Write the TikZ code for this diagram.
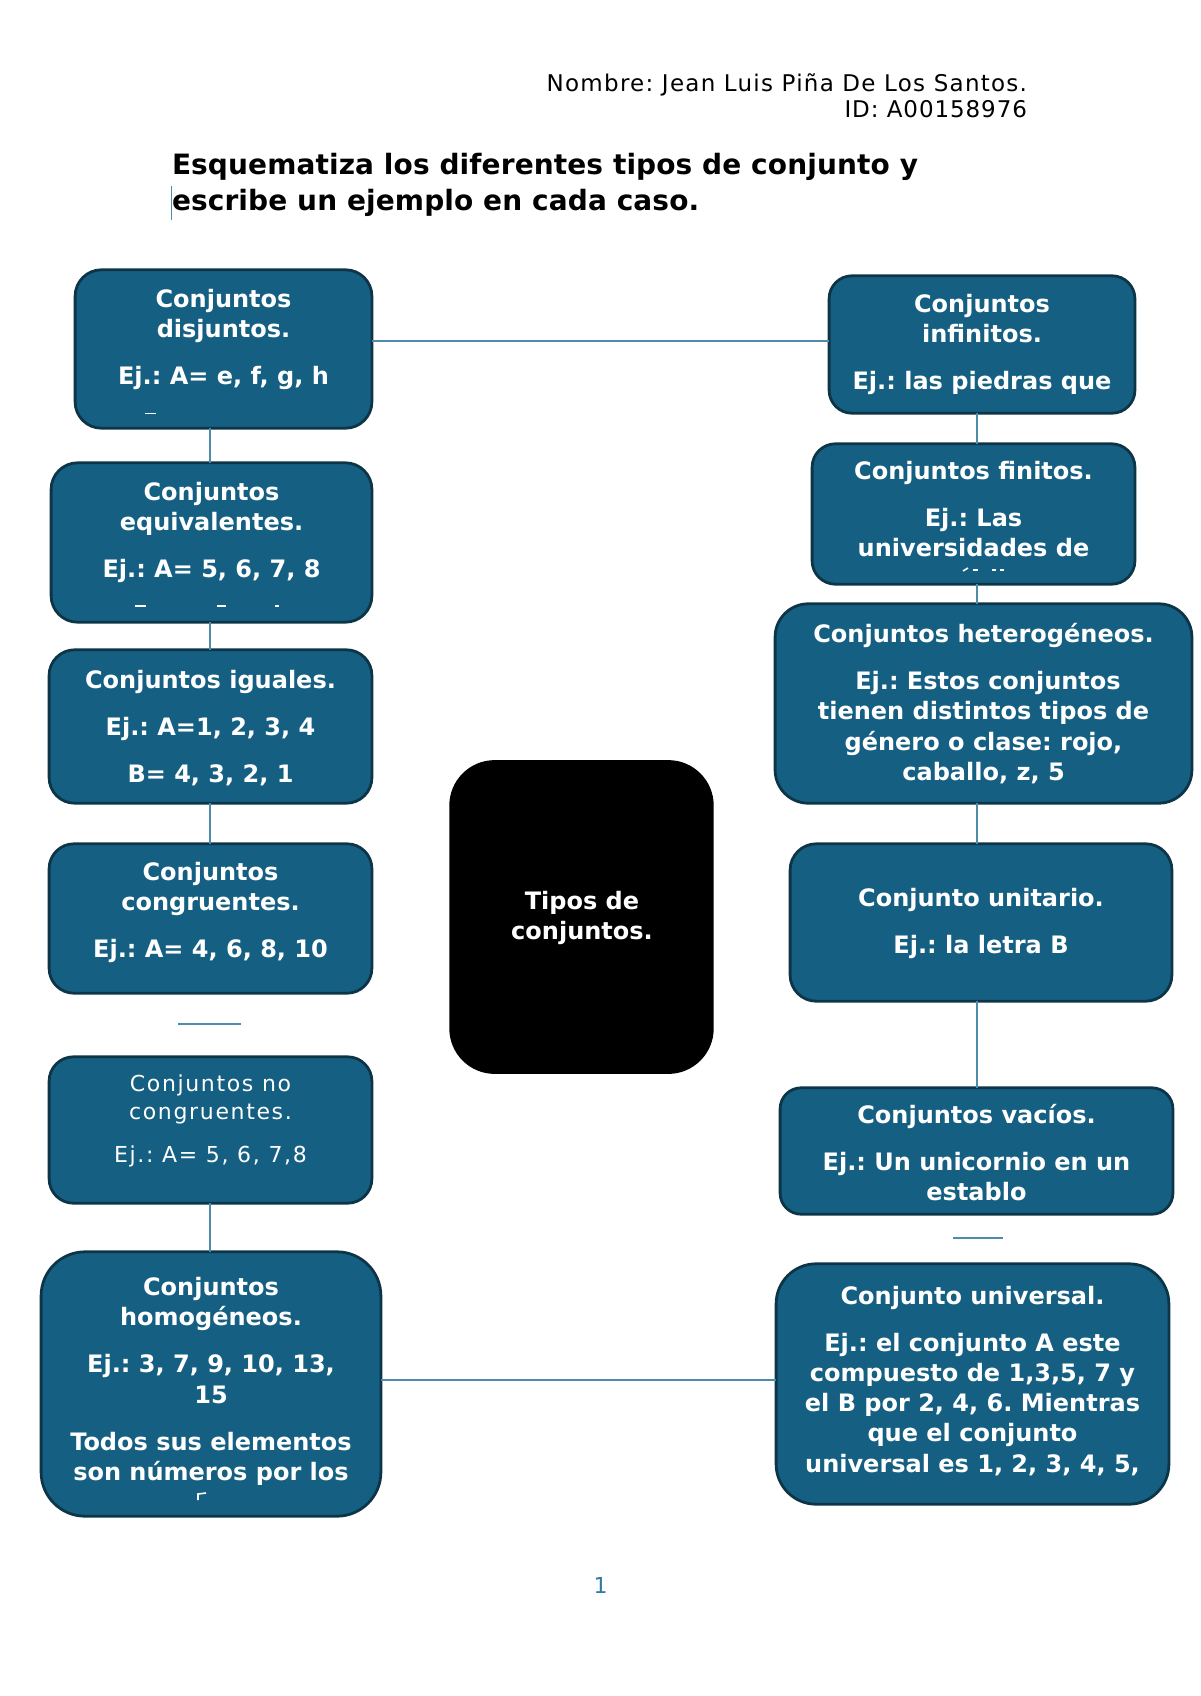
\documentclass[tikz,border=0pt]{standalone}
\usepackage{fontspec}
\setmainfont{DejaVu Sans}
\newfontfamily\spacedfont[LetterSpace=5.5]{DejaVu Sans}
\newfontfamily\idfont[LetterSpace=4]{DejaVu Sans}
\newfontfamily\boxlightfont[LetterSpace=7.5]{DejaVu Sans}
\newfontfamily\titlefont[LetterSpace=0.4]{DejaVu Sans Bold}
\frenchspacing
\definecolor{boxfill}{HTML}{156082}
\definecolor{boxedge}{HTML}{0D3547}
\definecolor{connline}{HTML}{4F8CAB}
\definecolor{pagecolor}{HTML}{2F7CA3}
\tikzset{
  x=1pt, y=-1pt,
  setbox/.style={draw=boxedge, line width=2.8pt, fill=boxfill, text=white, inner sep=0pt, outer sep=0pt},
  conn/.style={draw=connline, line width=1.8pt},
  clipmark/.style={draw=white, line width=1.6pt},
  plaintext/.style={inner sep=0pt, outer sep=0pt, text=black, align=left}
}
% name, x1, y1, x2, y2, first baseline, font size, line skip, text
\newcommand{\setboxnode}[9]{%
  \pgfmathsetmacro{\bw}{#4-#2-2.2}\pgfmathsetmacro{\bh}{#5-#3-1.6}%
  \pgfmathsetmacro{\bcx}{(#2+#4)/2}\pgfmathsetmacro{\bcy}{(#3+#5)/2}%
  \pgfmathsetmacro{\brad}{min(\bw,\bh)/6}%
  \pgfmathsetmacro{\bgap}{#6-#3-0.8-0.73*#8}%
  \node[setbox, rounded corners=\brad pt] (#1) at (\bcx,\bcy)
    {\parbox[c][\bh pt][t]{\bw pt}{\centering\fontsize{#7}{#8}\selectfont\vspace*{\bgap pt}\rule{0pt}{0.73\dimexpr#8pt\relax}#9}};%
}
\begin{document}
\begin{tikzpicture}
\useasboundingbox (0,0) rectangle (1200,1696);
\fill[white] (0,0) rectangle (1200,1696);

% header
\node[plaintext, anchor=base east, align=right] (nombre) at (1027,92)
  {\spacedfont\fontsize{23}{26}\selectfont Nombre: Jean Luis Piña De Los Santos.};
\node[plaintext, anchor=base east, align=right] (idline) at (1027,118)
  {\idfont\fontsize{23}{26}\selectfont ID: A00158976};
\node[plaintext, anchor=base west] (titulo1) at (172,175)
  {\titlefont\fontsize{28}{37}\selectfont Esquematiza los diferentes tipos de conjunto y};
\node[plaintext, anchor=base west] (titulo2) at (172,211)
  {\titlefont\fontsize{28}{37}\selectfont escribe un ejemplo en cada caso.};
\coordinate (caretA) at (171.5,186);
\coordinate (caretB) at (171.5,220);
\draw[conn] (caretA) -- (caretB);

\setboxnode{dis}{74}{269}{373}{429}{307.5}{24}{30.3}{\bfseries Conjuntos\\disjuntos.\\[16.7pt]Ej.: A= e, f, g, h}
\setboxnode{equ}{50}{462}{373}{623}{500.5}{24}{30.3}{\bfseries Conjuntos\\equivalentes.\\[16.7pt]Ej.: A= 5, 6, 7, 8}
\setboxnode{igu}{48}{649}{373}{804}{688}{24}{30.3}{\bfseries Conjuntos iguales.\\[16.7pt]Ej.: A=1, 2, 3, 4\\[16.7pt]B= 4, 3, 2, 1}
\setboxnode{con}{48}{843}{373}{994}{880.5}{24}{30.3}{\bfseries Conjuntos\\congruentes.\\[16.7pt]Ej.: A= 4, 6, 8, 10}
\setboxnode{noc}{48}{1056}{373}{1204}{1091}{22}{28}{\boxlightfont Conjuntos no\\congruentes.\\[15pt]Ej.: A= 5, 6, 7,8}
\setboxnode{hom}{40}{1251}{382}{1517}{1295.5}{24}{30.3}{\bfseries Conjuntos\\homogéneos.\\[16.7pt]Ej.: 3, 7, 9, 10, 13,\\15\\[16.7pt]Todos sus elementos\\son números por los}
\setboxnode{inf}{828}{275}{1136}{414}{312.5}{24}{30.3}{\bfseries Conjuntos\\infinitos.\\[16.7pt]Ej.: las piedras que}
\setboxnode{fin}{811}{443}{1136}{585}{479.5}{24}{30.3}{\bfseries Conjuntos finitos.\\[16.7pt]Ej.: Las\\universidades de}
\setboxnode{het}{774}{603}{1193}{804}{642.5}{24}{30.3}{\bfseries Conjuntos heterogéneos.\\[16.7pt]\hspace*{9pt}Ej.: Estos conjuntos\\tienen distintos tipos de\\género o clase: rojo,\\caballo, z, 5}
\setboxnode{uni}{789}{843}{1173}{1002}{906.5}{24}{30.3}{\bfseries Conjunto unitario.\\[16.7pt]Ej.: la letra B}
\setboxnode{vac}{779}{1087}{1174}{1215}{1123}{24}{30.3}{\bfseries Conjuntos vacíos.\\[16.7pt]Ej.: Un unicornio en un\\establo}
\setboxnode{uvs}{775}{1263}{1170}{1505}{1304}{24}{30.3}{\bfseries Conjunto universal.\\[16.7pt]Ej.: el conjunto A este\\compuesto de 1,3,5, 7 y\\el B por 2, 4, 6. Mientras\\que el conjunto\\universal es 1, 2, 3, 4, 5,}

% centre box
\node[setbox, fill=black, draw=black, rounded corners=44pt, minimum width=261.6pt, minimum height=311pt] (tipos) at (581.5,917) {};
\node[inner sep=0pt, text=white, align=center, anchor=base, font=\fontsize{24}{30.3}\selectfont\bfseries] (tiposlbl) at (582,939.5)
  {Tipos de\\conjuntos.};

% connectors
\draw[conn] (dis.east |- 0,341) -- (inf.west |- 0,341);
\draw[conn] (210,0 |- dis.south) -- (210,0 |- equ.north);
\draw[conn] (210,0 |- equ.south) -- (210,0 |- igu.north);
\draw[conn] (210,0 |- igu.south) -- (210,0 |- con.north);
\draw[conn] (210,0 |- noc.south) -- (210,0 |- hom.north);
\draw[conn] (977,0 |- inf.south) -- (977,0 |- fin.north);
\draw[conn] (977,0 |- fin.south) -- (977,0 |- het.north);
\draw[conn] (977,0 |- het.south) -- (977,0 |- uni.north);
\draw[conn] (977,0 |- uni.south) -- (977,0 |- vac.north);
\draw[conn] (hom.east |- 0,1380) -- (uvs.west |- 0,1380);
\coordinate (dashLa) at (178,1024);
\coordinate (dashLb) at (241,1024);
\draw[conn] (dashLa) -- (dashLb);
\coordinate (dashRa) at (953,1238);
\coordinate (dashRb) at (1003,1238);
\draw[conn] (dashRa) -- (dashRb);

% page number
\node[inner sep=0pt, text=pagecolor, anchor=base] (pagenum) at (600.5,1593) {\fontsize{22}{26}\selectfont 1};

% clipped tops of text lines
\coordinate (m1a) at (145,413.5); \coordinate (m1b) at (156,413.5);
\draw[clipmark] (m1a) -- (m1b);
\coordinate (m2a) at (135,606); \coordinate (m2b) at (146,606);
\draw[clipmark] (m2a) -- (m2b);
\coordinate (m3a) at (217,606); \coordinate (m3b) at (226,606);
\draw[clipmark, line width=2.4pt] (m3a) -- (m3b);
\coordinate (m4a) at (275,606); \coordinate (m4b) at (279,606);
\draw[clipmark, line width=2.4pt] (m4a) -- (m4b);
\coordinate (m5a) at (963,571); \coordinate (m5b) at (968,568);
\draw[clipmark] (m5a) -- (m5b);
\coordinate (m6a) at (973,570); \coordinate (m6b) at (978,570);
\draw[clipmark] (m6a) -- (m6b);
\coordinate (m7a) at (992,570); \coordinate (m7b) at (996,570);
\draw[clipmark] (m7a) -- (m7b);
\coordinate (m9a) at (1000,570); \coordinate (m9b) at (1004,570);
\draw[clipmark] (m9a) -- (m9b);
\coordinate (m8a) at (198,1500); \coordinate (m8b) at (198,1494); \coordinate (m8c) at (206,1493);
\draw[clipmark] (m8a) -- (m8b) -- (m8c);
\end{tikzpicture}
\end{document}
